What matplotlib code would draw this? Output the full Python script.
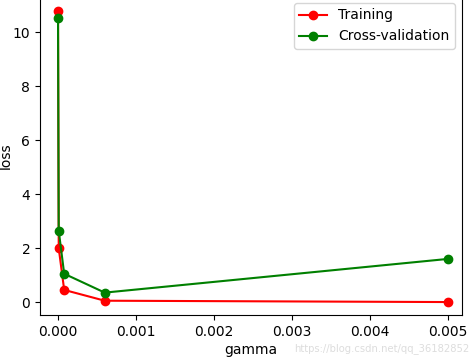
import numpy as np
import matplotlib.pyplot as plt

gamma = [0.000001, 0.00001, 0.00008, 0.0006, 0.005]   # gamma values
loss_train = [10.8, 2.0, 0.45, 0.05, 0.0]             # training loss
loss_cv = [10.55, 2.65, 1.05, 0.35, 1.6]              # cross-validation loss

fig = plt.figure(figsize=(4.74, 3.58), dpi=100)
ax = fig.add_axes([40/474, 43/358, 422/474, 319/358])
ax.plot(gamma, loss_train, 'ro-', label='Training')
ax.plot(gamma, loss_cv, 'go-', label='Cross-validation')
ax.set_xlim(-0.00023, 0.00518)
ax.set_ylim(-0.48, 11.35)
ax.set_xlabel('gamma', labelpad=3)
ax.set_ylabel('loss')
ax.yaxis.set_label_coords(-0.065, 0.5)
ax.legend(loc='upper right')
fig.text(0.99, 0.012, 'https://blog.csdn.net/qq_36182852', ha='right',
         va='bottom', color='#dddddd', fontsize=7.2)
fig.savefig('out.png', dpi=100)
